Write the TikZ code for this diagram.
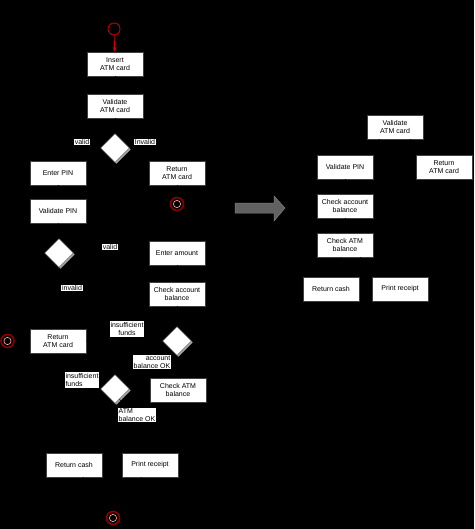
\documentclass[tikz,border=0pt]{standalone}
\usepackage{fontspec}
\setmainfont{Liberation Sans}
\usetikzlibrary{shapes.geometric,shadows,arrows.meta}
\tikzset{
  actbox/.style={rectangle, fill=white, draw=black!75, line width=0.4pt,
    minimum width=56pt, minimum height=24pt, inner sep=1pt, align=center,
    font=\fontsize{7}{8.3}\selectfont,
    drop shadow={shadow xshift=1.3pt, shadow yshift=-1.3pt, fill=gray!70, opacity=1}},
  decis/.style={diamond, fill=white, draw=black!75, line width=0.4pt,
    minimum width=29pt, minimum height=29pt, inner sep=0pt,
    drop shadow={shadow xshift=1.3pt, shadow yshift=-1.3pt, fill=gray!70, opacity=1}},
  lbl/.style={fill=white, inner sep=0.8pt, font=\fontsize{7}{8.3}\selectfont},
  flow/.style={draw=black, line width=0.5pt, -{Stealth[length=4pt]}},
  startst/.style={circle, draw=red!80!black, line width=0.8pt, fill=black, minimum size=12pt, inner sep=0pt},
  endst/.style={circle, draw=red!55!black, line width=1.6pt, fill=black, minimum size=13pt, inner sep=0pt,
    path picture={\draw[white!70!red, line width=0.6pt] (path picture bounding box.center) circle (3.6pt);}},
}
\begin{document}
\begin{tikzpicture}[x=1pt,y=-1pt]
\fill[black] (0,0) rectangle (474,529);
\useasboundingbox (0,0) rectangle (474,529);

% left diagram
\node[startst] (start) at (114,29) {};
\node[actbox] (ins) at (115,64) {Insert\\ATM card};
\node[actbox] (vatm) at (115,106) {Validate\\ATM card};
\node[decis] (d1) at (115,148) {};
\node[actbox] (pin) at (58,173) {Enter PIN};
\node[actbox] (retR) at (177,173) {Return\\ATM card};
\node[endst] (endR) at (177,204) {};
\node[actbox] (vpin) at (58,211) {Validate PIN};
\node[decis] (d2) at (59,253) {};
\node[actbox] (amt) at (177,253) {Enter amount};
\node[actbox] (chk) at (177,294) {Check account\\balance};
\node[actbox] (retL) at (58,341) {Return\\ATM card};
\node[endst] (endL) at (7.5,341) {};
\node[decis] (d3) at (177,341) {};
\node[decis] (d4) at (115,389) {};
\node[actbox] (atm) at (178,390) {Check ATM\\balance};
\node[actbox] (cash) at (74,465) {Return cash};
\node[actbox] (rcpt) at (150,465) {Print receipt};
\node[endst] (endB) at (113,518) {};

\draw[red!85!black, line width=0.8pt, -{Stealth[length=5pt]}] (start) -- (ins);
\draw[flow] (ins) -- (vatm);
\draw[flow] (vatm) -- (d1);
\draw[flow] (d1.west) -| (pin.north);
\draw[flow] (d1.east) -| (retR.north);
\draw[flow] (retR) -- (endR);
\draw[flow] (pin) -- (vpin);
\draw[flow] (vpin) -- (d2);
\draw[flow] (d2.east) -- (amt.west);
\draw[flow] (d2.south) -- (retL.north);
\draw[flow] (retL) -- (endL);
\draw[flow] (amt) -- (chk);
\draw[flow] (chk) -- (d3);
\draw[flow] (d3.west) -- (retL.east);
\draw[flow] (d3.south) -- (atm.north);
\draw[flow] (atm) -- (d4);
\draw[flow] (d4.west) -| (retL.south);
\draw[flow] (d4) -- (cash);
\draw[flow] (d4) -- (rcpt);
\draw[flow] (cash) -- (endB);
\draw[flow] (rcpt) -- (endB);

\node[lbl] (l1) at (82,142) {valid};
\node[lbl] (l2) at (145,142) {Invalid};
\node[lbl] (l3) at (110,247) {valid};
\node[lbl] (l4) at (72,288) {invalid};
\node[lbl, align=center] (l5) at (127,329) {insufficient\\funds};
\node[lbl, align=right] (l6) at (152,362) {account\\balance OK};
\node[lbl, align=left] (l7) at (82,380) {insufficient\\funds};
\node[lbl, align=left] (l8) at (137,415) {ATM\\balance OK};

% big arrow
\fill[black!62, draw=black!50, line width=0.5pt]
  (235,203) -- (274,203) -- (274,196) -- (285,208) -- (274,221) -- (274,213) -- (235,213) -- cycle;

% right diagram
\node[actbox] (vatm2) at (395,127) {Validate\\ATM card};
\node[actbox] (vpin2) at (345,167) {Validate PIN};
\node[actbox] (ret2) at (444,167) {Return\\ATM card};
\node[actbox] (chk2) at (345,206) {Check account\\balance};
\node[actbox] (atm2) at (345,245) {Check ATM\\balance};
\node[actbox] (cash2) at (331,289) {Return cash};
\node[actbox] (rcpt2) at (400,289) {Print receipt};

\draw[flow] (vatm2) -- (vpin2);
\draw[flow] (vatm2) -- (ret2);
\draw[flow] (vpin2) -- (chk2);
\draw[flow] (chk2) -- (atm2);
\draw[flow] (atm2) -- (cash2);
\draw[flow] (atm2) -- (rcpt2);
\end{tikzpicture}
\end{document}
